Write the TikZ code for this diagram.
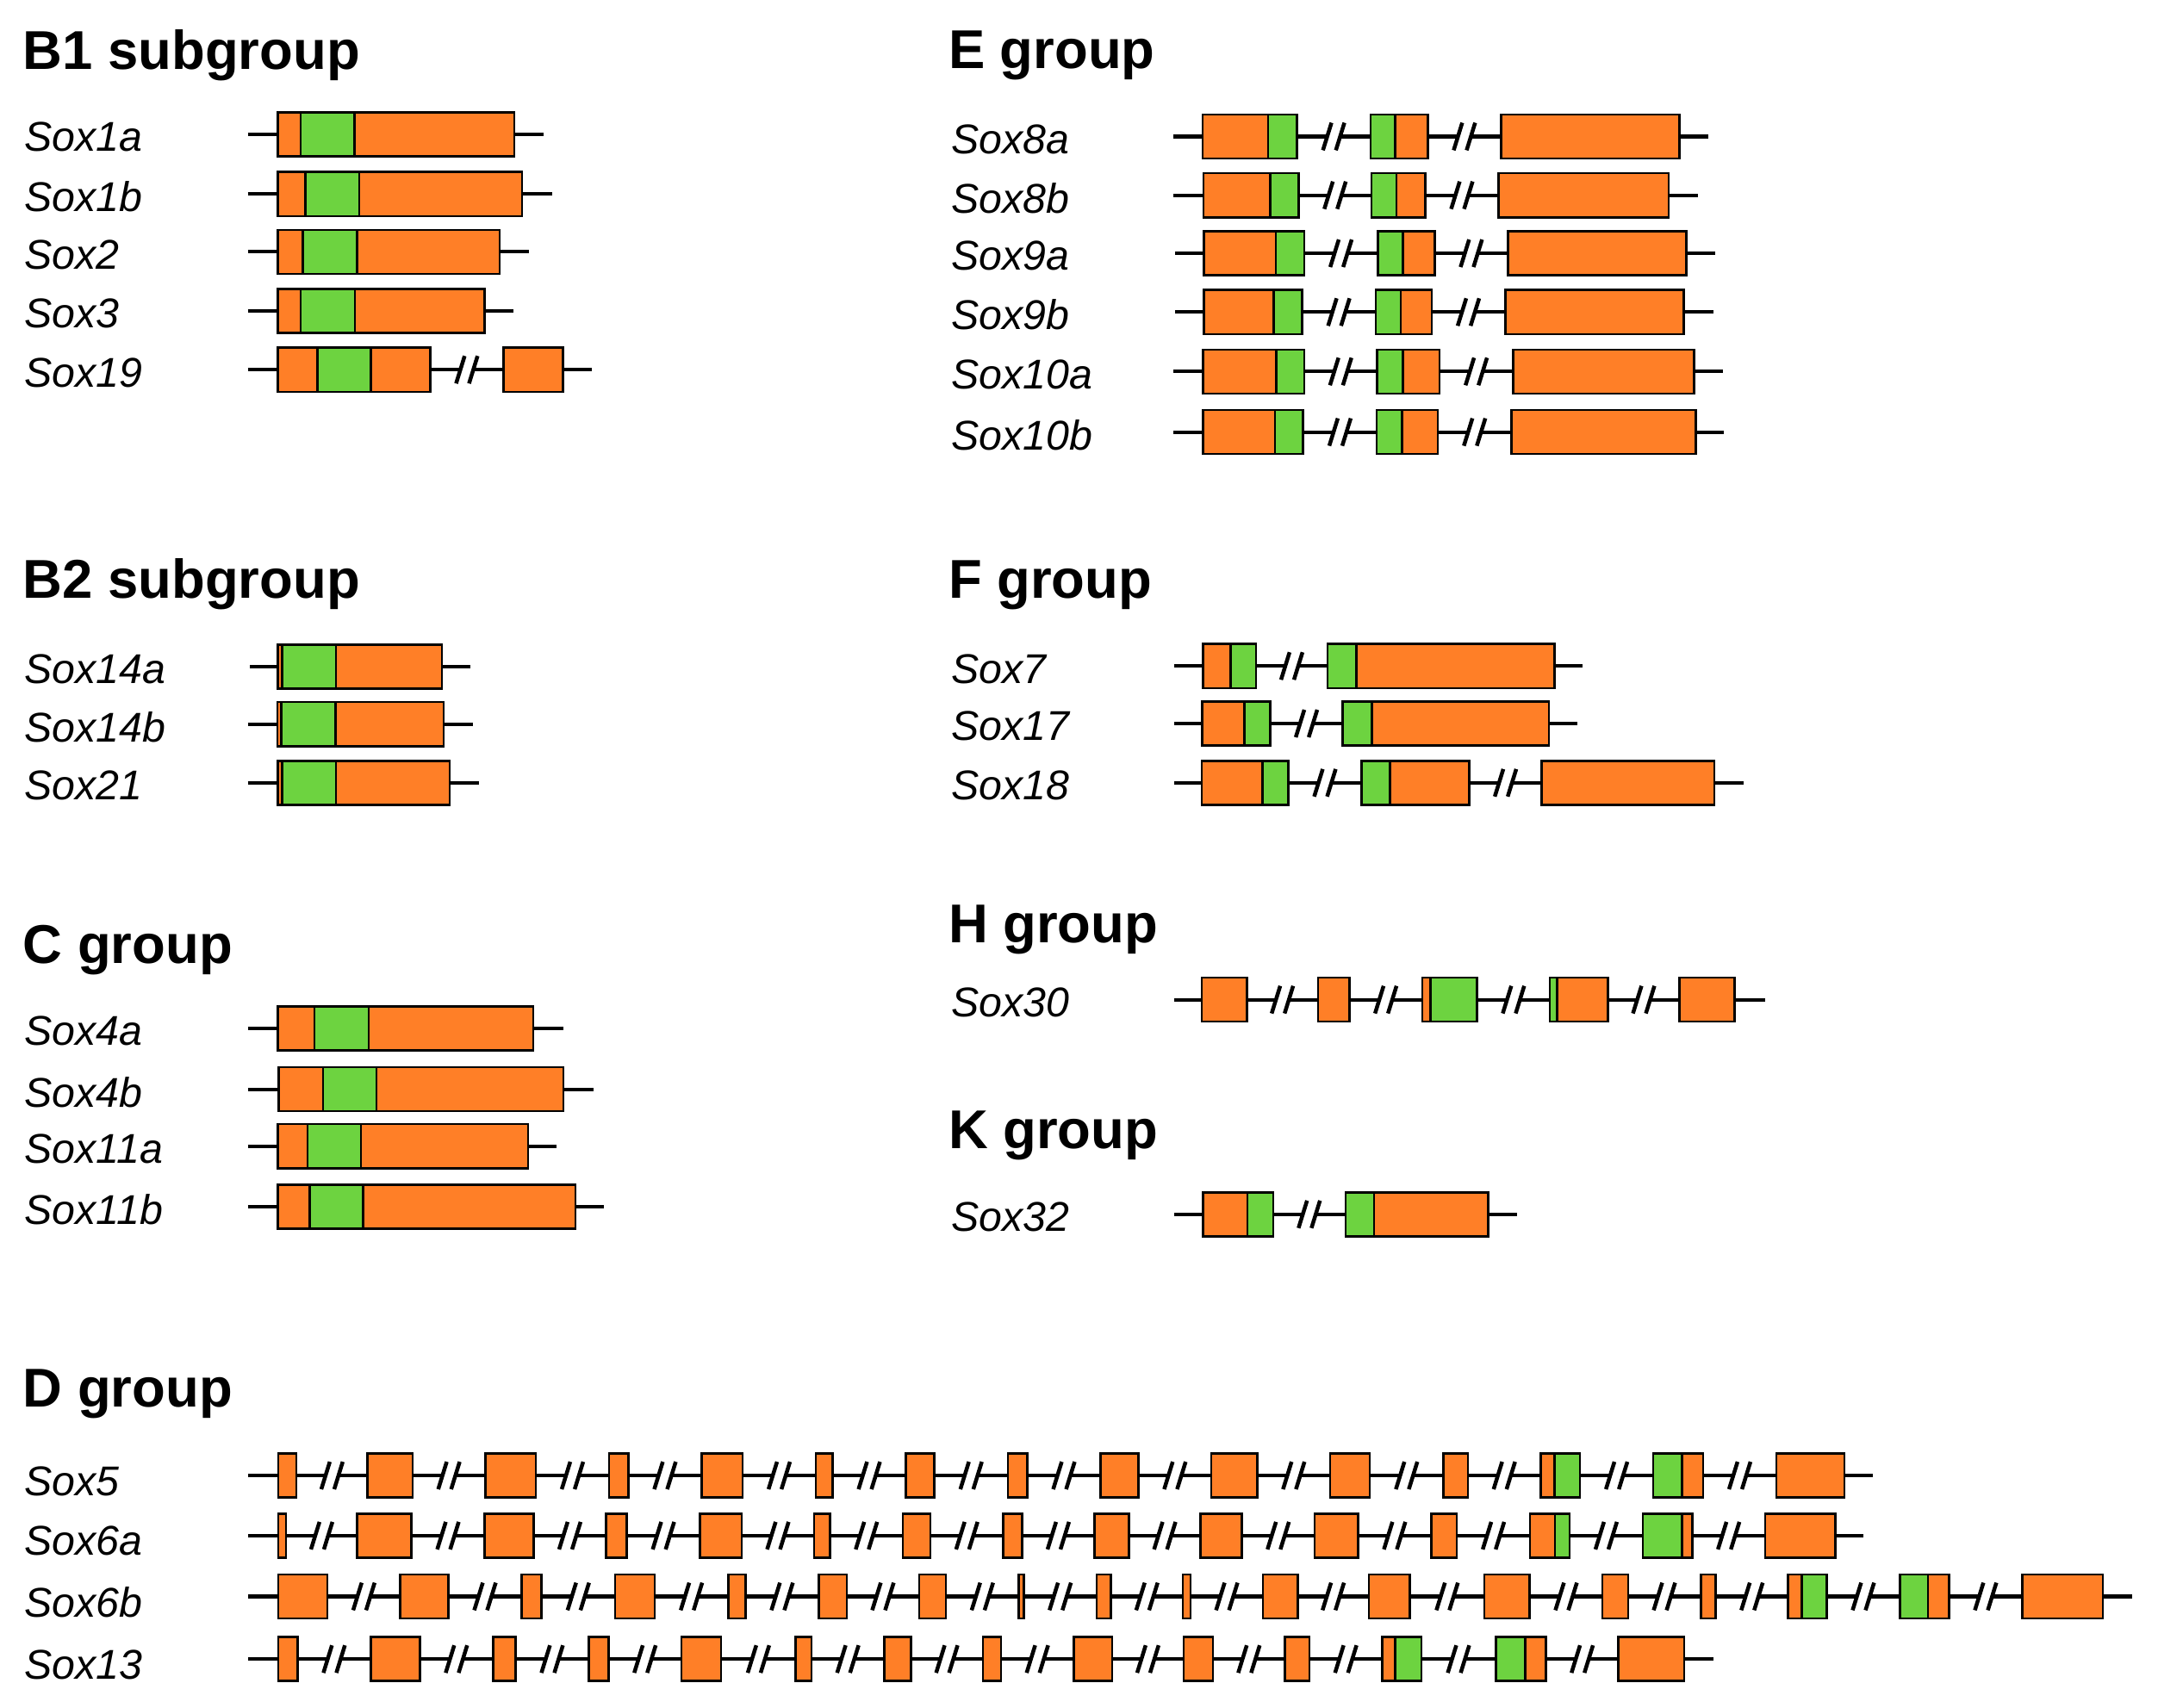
\documentclass[tikz,border=0pt]{standalone}
\usepackage{fontspec}
\setmainfont{Liberation Sans}

\definecolor{soxorange}{RGB}{255,127,39}
\definecolor{soxgreen}{RGB}{109,211,64}

\tikzset{x=0.1mm, y=-0.1mm,
    intron/.style={line width=0.75pt},
    cutline/.style={line width=0.8pt},
    exon/.style={draw, fill=soxorange, line width=0.45pt},
    hmgbox/.style={draw, fill=soxgreen, line width=0.45pt},
    grouptitle/.style={anchor=base west, inner sep=0pt, font=\bfseries\fontsize{11.3}{13}\selectfont},
    genename/.style={anchor=west, inner sep=0pt, font=\itshape\fontsize{8.6}{10}\selectfont},
    }

\def\labdy{2}
% break mark on an intron
\newcommand{\cutmark}[2]{%
  \draw[white, line width=1.6pt] (#1-4.7,#2) -- (#1+4.7,#2);
  \draw[cutline] (#1-7.8,#2+10) -- (#1-1.6,#2-10);
  \draw[cutline] (#1+1.6,#2+10) -- (#1+7.8,#2-10);
}
% [label x]{y}{name}{from}{to}{exons}
\newcommand{\gene}[6][17.3]{%
  \node[genename] (#3) at (#1,#2+\labdy) {#3};
  \draw[intron] (#4,#2) -- (#5,#2);
  \foreach \a/\b [count=\i, remember=\b as \prev (initially 0)] in {#6}{
    \filldraw[exon] (\a,#2-16) rectangle (\b,#2+16);
    \ifnum\i>1 \pgfmathsetmacro\mid{(\prev+\a)/2}\cutmark{\mid}{#2}\fi
  }
}
% HMG box part
\newcommand{\hmg}[3]{\filldraw[hmgbox] (#2,#1-16) rectangle (#3,#1+16);}

\begin{document}
\begin{tikzpicture}
\useasboundingbox (0,0) rectangle (1568,1241);

% left column
\node[grouptitle] (b1) at (16,50.1) {B1 subgroup};
\gene{97.7}{Sox1a}{180}{395}{202/373.6} \hmg{97.7}{218.4}{257.5}
\gene{141}{Sox1b}{180}{401}{202/379.3} \hmg{141}{221.8}{261}
\gene{183}{Sox2}{180}{384.5}{202/363} \hmg{183}{220}{259.5}
\gene{226}{Sox3}{180}{373}{202/352} \hmg{226}{218.4}{257.8}
\gene{268.7}{Sox19}{180}{430}{202/312.6,365.8/409} \hmg{268.7}{230.5}{269.5}

\node[grouptitle] (b2) at (16,434.6) {B2 subgroup};
\gene{484.4}{Sox14a}{181.6}{342}{202/321} \hmg{484.4}{205}{244}
\gene{526.3}{Sox14b}{180}{343.4}{201.7/322.4} \hmg{526.3}{204.3}{243.7}
\gene{569}{Sox21}{180}{348}{202/326.7} \hmg{569}{205}{244}

\node[grouptitle] (c) at (16,700.3) {C group};
\gene{747.4}{Sox4a}{180}{409.5}{202/387.4} \hmg{747.4}{228.4}{267.8}
\gene{791.6}{Sox4b}{180}{431}{202.6/409.5} \hmg{791.6}{234.8}{273.6}
\gene{833}{Sox11a}{180}{404.6}{202/383.6} \hmg{833}{223.6}{262.4}
\gene{877}{Sox11b}{180}{439}{202/418} \hmg{877}{225}{264}

% right column
\node[grouptitle] (e) at (688.5,49.8) {E group};
\gene[690.5]{99.2}{Sox8a}{852.8}{1241.3}{873.7/942.3,995.8/1037.5,1090.6/1220.4}
\hmg{99.2}{921.4}{942.3} \hmg{99.2}{995.8}{1013.6}
\gene[690.5]{141.9}{Sox8b}{852.8}{1233.7}{874.4/943.5,996.6/1035.6,1088.8/1212.4}
\hmg{141.9}{923}{943.5} \hmg{141.9}{996.6}{1014.8}
\gene[690.5]{184.1}{Sox9a}{854}{1246.2}{874.8/947.6,1001.1/1042.5,1095.6/1225.3}
\hmg{184.1}{927}{947.6} \hmg{184.1}{1001.1}{1019.3}
\gene[690.5]{226.8}{Sox9b}{854}{1245}{874.8/946,999.6/1040.2,1093.7/1223.4}
\hmg{226.8}{925.6}{946} \hmg{226.8}{999.6}{1017.8}
\gene[690.5]{270}{Sox10a}{852.8}{1251.9}{874/947.6,1000.7/1045.9,1099.4/1231}
\hmg{270}{927.5}{947.6} \hmg{270}{1000.7}{1019.3}
\gene[690.5]{314}{Sox10b}{852.8}{1252.6}{874/946.9,1000.4/1044.7,1098.2/1232.1}
\hmg{314}{926.4}{946.9} \hmg{314}{1000.4}{1018.6}

\node[grouptitle] (f) at (688.5,434.5) {F group};
\gene[690.5]{484}{Sox7}{853.3}{1150}{874/912.7,964.5/1129.4}
\hmg{484}{894}{912.7} \hmg{484}{964.5}{985.6}
\gene[690.5]{525.8}{Sox17}{853.3}{1146}{873.6/923,975.6/1125.4}
\hmg{525.8}{904.3}{923} \hmg{525.8}{975.6}{996.7}
\gene[690.5]{568.9}{Sox18}{853.3}{1266.8}{873.2/936.2,989.2/1067.6,1120.2/1245.7}
\hmg{568.9}{917.4}{936.2} \hmg{568.9}{989.2}{1009.9}

\node[grouptitle] (h) at (688.5,685) {H group};
\gene[690.5]{726.5}{Sox30}{853.3}{1282.4}{873.2/905.9,957.7/980.4,1033.4/1073.2,1126.2/1168.4,1220.2/1260.5}
\hmg{726.5}{1039.4}{1073.2} \hmg{726.5}{1126.2}{1131.4}

\node[grouptitle] (k) at (688.5,834.4) {K group};
\gene[690.5]{882.5}{Sox32}{853.3}{1102.3}{874/925,977.6/1081.2}
\hmg{882.5}{906.3}{925} \hmg{882.5}{977.6}{998.3}

% D group
\def\labdy{4}
\node[grouptitle] (d) at (16,1022.5) {D group};
\gene{1072.3}{Sox5}{180.5}{1360.8}{202.1/215.4,267.1/299.7,352.7/389.4,442.5/456.5,509.9/539.5,592.9/604.9,658.3/678.9,732.3/746.3,799.8/827.2,880.2/913.5,966.6/995.3,1048.8/1066.7,1119.4/1148,1201.3/1237.5,1290.7/1340.1}
\hmg{1072.3}{1129.6}{1148} \hmg{1072.3}{1201.3}{1222}
\gene{1116}{Sox6a}{180.5}{1354.2}{202.1/207.9,259.6/299,352/387.7,440.4/455.5,508.6/538.8,591.6/603.2,655.9/676.1,728.9/742.6,795.3/820.3,872.4/902.2,955.3/986.8,1039.9/1058.5,1111.8/1140.4,1193.7/1229.6,1282.5/1333.5}
\hmg{1116}{1129.9}{1140.4} \hmg{1116}{1193.7}{1222.3}
\gene{1160.2}{Sox6b}{180.5}{1549}{202.1/238,290.8/325.7,379.1/393.5,446.9/475.7,529.1/541.6,595/615.2,667.9/687.4,740.2/744,796.7/807.3,859.4/865.2,917.6/942.9,994.6/1024.4,1078.6/1111.5,1164.4/1182.9,1235.8/1246.7,1299.3/1327.3,1380.5/1416.1,1469.4/1527.9}
\hmg{1160.2}{1309.2}{1327.3} \hmg{1160.2}{1380.5}{1400.9}
\gene{1205.7}{Sox13}{180.5}{1244.7}{202.1/216.1,269.5/305.1,358.2/374.7,427.7/442.1,495.2/524,578.2/589.5,642.6/661.8,714.2/727.2,780.3/808,860.1/881.3,933.7/951.5,1004.2/1032.7,1086.8/1123.3,1176/1223.6}
\hmg{1205.7}{1013.8}{1032.7} \hmg{1205.7}{1086.8}{1108.2}
\end{tikzpicture}
\end{document}
